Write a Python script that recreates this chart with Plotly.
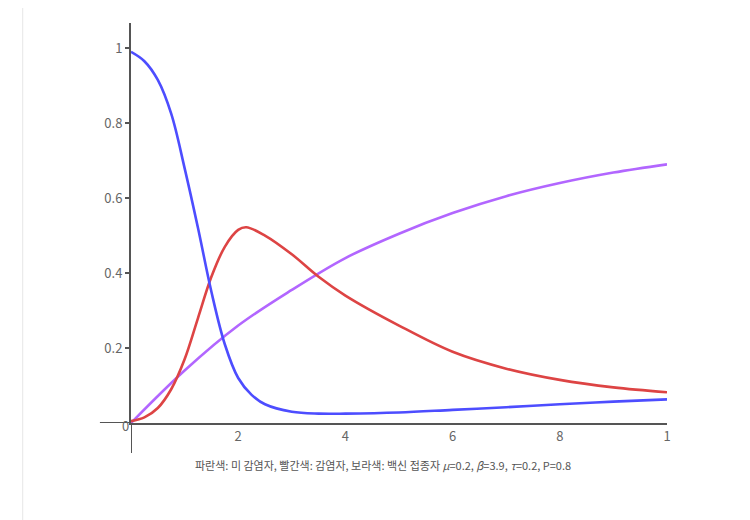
import plotly.graph_objects as go

x_s = [0, 0.25, 0.5, 0.75, 1, 1.25, 1.5, 1.75, 2, 2.25, 2.5, 3, 3.5, 4, 5, 6, 7, 8, 9, 10]
s_vals = [0.99, 0.965, 0.915, 0.825, 0.68, 0.52, 0.35, 0.21, 0.12, 0.075, 0.05, 0.03, 0.025, 0.025, 0.028, 0.035, 0.042, 0.05, 0.057, 0.063]
x_i = [0, 0.25, 0.5, 0.75, 1, 1.25, 1.5, 1.75, 2, 2.15, 2.5, 3, 3.5, 4, 5, 6, 7, 8, 9, 10]
i_vals = [0.005, 0.015, 0.04, 0.09, 0.17, 0.28, 0.39, 0.47, 0.515, 0.522, 0.5, 0.45, 0.39, 0.34, 0.26, 0.19, 0.145, 0.115, 0.095, 0.082]
x_v = [0, 1, 2, 3, 4, 5, 6, 7, 8, 9, 10]
v_vals = [0, 0.14, 0.26, 0.355, 0.44, 0.505, 0.56, 0.605, 0.64, 0.668, 0.69]
x_ticks = [2, 4, 6, 8, 10]
x_ticktext = ["2", "4", "6", "8", "1"]
y_ticks = [0.2, 0.4, 0.6, 0.8, 1]
y_ticktext = ["0.2", "0.4", "0.6", "0.8", "1"]
caption = "파란색: 미 감염자, 빨간색: 감염자, 보라색: 백신 접종자 <i>μ</i>=0.2, <i>β</i>=3.9, <i>τ</i>=0.2, P=0.8"

fig = go.Figure()
for xs, ys, c in [(x_v, v_vals, "#b266ff"), (x_i, i_vals, "#dd4444"), (x_s, s_vals, "#4d4dff")]:
    fig.add_trace(go.Scatter(x=xs, y=ys, mode="lines", line=dict(color=c, width=2.6, shape="spline", smoothing=1.0),
                             showlegend=False, hoverinfo="skip", cliponaxis=False))

fig.update_layout(
    width=750, height=520, paper_bgcolor="white", plot_bgcolor="white",
    margin=dict(l=123, r=91, t=15, b=105, autoexpand=False),
    font=dict(family="Noto Sans CJK KR, Noto Sans", color="#666666", size=12),
    xaxis=dict(range=[0, 10], tickvals=x_ticks, ticktext=x_ticktext, showgrid=False, zeroline=False, automargin=False,
               showline=True, linecolor="#555555", linewidth=2, ticks="", tickfont=dict(size=13)),
    yaxis=dict(range=[0, 1.067], tickvals=y_ticks, ticktext=y_ticktext, showgrid=False, zeroline=False, automargin=False,
               showline=True, linecolor="#555555", linewidth=2, ticks="outside", ticklen=4, tickwidth=1.5,
               tickcolor="#555555", tickfont=dict(size=13)),
    shapes=[
        dict(type="line", xref="x", yref="paper", x0=0, x1=0, y0=0, y1=-0.075, line=dict(color="#555555", width=2)),
        dict(type="line", xref="paper", yref="y", x0=-0.058, x1=0, y0=0, y1=0, line=dict(color="#555555", width=2)),
        dict(type="line", xref="paper", yref="paper", x0=-0.202, x1=-0.202, y0=-0.3, y1=1.05, line=dict(color="#e6e6e6", width=1)),
        dict(type="line", xref="paper", yref="paper", x0=1.145, x1=1.145, y0=-0.3, y1=1.05, line=dict(color="#e6e6e6", width=1)),
    ],
    annotations=[
        dict(text="0", xref="paper", yref="paper", x=-0.02, y=0, yshift=-14, showarrow=False, font=dict(size=13)),
        dict(text=caption, xref="paper", yref="paper", x=0.47, y=-0.13, showarrow=False,
             font=dict(size=11, color="#555555")),
    ],
)
fig.write_html("out.html")
